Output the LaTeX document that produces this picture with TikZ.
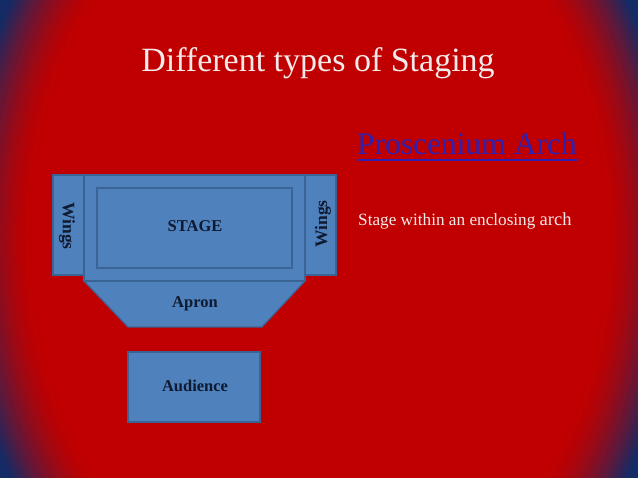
\documentclass[tikz,border=0pt]{standalone}
\usepackage{fontspec}
\setmainfont{Liberation Serif}
\usetikzlibrary{positioning}
\definecolor{slidered}{HTML}{C00000}
\definecolor{slidenavy}{HTML}{142B66}
\definecolor{boxblue}{HTML}{4F81BD}
\definecolor{boxline}{HTML}{3A6496}
\definecolor{boxtext}{HTML}{0F1A30}
\definecolor{titlewhite}{HTML}{F4EAEA}
\definecolor{linkblue}{HTML}{3020B0}
\begin{document}
\begin{tikzpicture}[x=1pt,y=-1pt,
    part/.style={fill=boxblue, draw=boxline, line width=1.2pt},
    partlabel/.style={text=boxtext, font=\bfseries\fontsize{16.5}{19}\selectfont, inner sep=0pt}]
\useasboundingbox (0,0) rectangle (638,478);
% background: red with dark blue corners
\begin{scope}
\clip (0,0) rectangle (638,478);
\fill[slidenavy] (0,0) rectangle (638,478);
\foreach \k in {0,...,24}{
  \pgfmathsetmacro{\r}{1.30-0.0125*\k}
  \pgfmathsetmacro{\p}{100-100*(min(1,max(0,(\r-1)/0.24)))^1.6}
  \fill[slidered!\p!slidenavy] (319,239) ellipse[x radius=290*\r, y radius=380*\r];
}
\end{scope}
% title
\node[anchor=base, text=titlewhite, font=\fontsize{34}{40}\selectfont] (title) at (318,72) {Different types of Staging};
% plan of the stage
\draw[part] (53,175) rectangle (84,275);
\draw[part] (305,175) rectangle (336,275);
\draw[part] (84,281) -- (305,281) -- (262,327) -- (128,327) -- cycle;
\draw[part] (84,175) rectangle (305,281);
\draw[part] (97,188) rectangle (292,268);
\draw[part] (128,352) rectangle (260,422);
\node[partlabel] (stage) at (195,226) {STAGE};
\node[partlabel, rotate=-90, font=\bfseries\fontsize{17.5}{20}\selectfont] (leftwings) at (67,226) {Wings};
\node[partlabel, rotate=90, font=\bfseries\fontsize{17.5}{20}\selectfont] (rightwings) at (323,224) {Wings};
\node[partlabel] (apron) at (195,304) {Apron};
\node[partlabel] (audience) at (195,386) {Audience};
% text on the right
\node[anchor=base west, text=linkblue, font=\fontsize{31.5}{36}\selectfont, inner sep=0pt] (arch) at (357,155) {Proscenium Arch};
\draw[linkblue, line width=2pt] ([yshift=-5pt]arch.base west) -- ([yshift=-5pt]arch.base east);
\node[anchor=base west, text=titlewhite, font=\fontsize{17.2}{20}\selectfont, inner sep=0pt] (desc) at (358,226) {Stage within an enclosing {\fontsize{18.5}{20}\selectfont arch}};
\end{tikzpicture}
\end{document}
